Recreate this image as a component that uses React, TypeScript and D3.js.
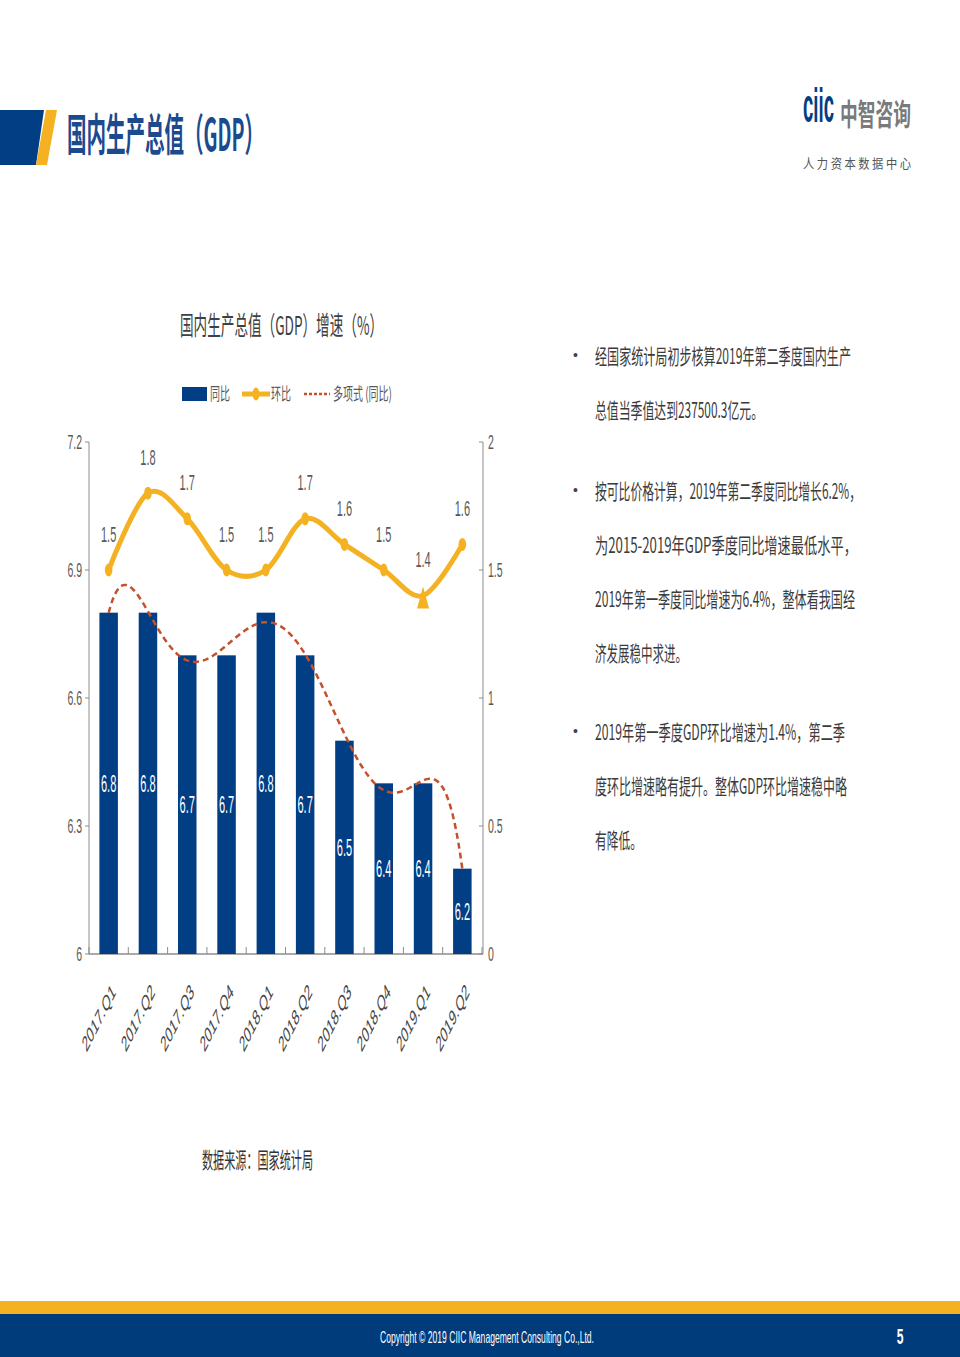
import React from "react";
import * as d3 from "d3";

const quarters = ["2017.Q1", "2017.Q2", "2017.Q3", "2017.Q4", "2018.Q1", "2018.Q2", "2018.Q3", "2018.Q4", "2019.Q1", "2019.Q2"];
const yoy = [6.8, 6.8, 6.7, 6.7, 6.8, 6.7, 6.5, 6.4, 6.4, 6.2];
const qoq = [1.5, 1.8, 1.7, 1.5, 1.5, 1.7, 1.6, 1.5, 1.4, 1.6];
const leftTicks = [6, 6.3, 6.6, 6.9, 7.2];
const rightTicks = [0, 0.5, 1, 1.5, 2];

const bullets = [
  ["经国家统计局初步核算2019年第二季度国内生产", "总值当季值达到237500.3亿元。"],
  ["按可比价格计算，2019年第二季度同比增长6.2%，", "为2015-2019年GDP季度同比增速最低水平，", "2019年第一季度同比增速为6.4%，整体看我国经", "济发展稳中求进。"],
  ["2019年第一季度GDP环比增速为1.4%，第二季", "度环比增速略有提升。整体GDP环比增速稳中略", "有降低。"],
];
const bulletWidths = [[256, 168], [266, 262, 260, 92], [250, 252, 47]];

const CJK = '"Noto Sans CJK SC", "Noto Sans", sans-serif';
const LAT = '"Liberation Sans", Arial, sans-serif';
const BLUE = "#023e84";
const GOLD = "#f4b223";
const RED = "#c4502c";
const GRAY = "#595959";

// least squares polynomial (Excel style trendline)
function polyfit(xs: number[], ys: number[], deg: number) {
  const n = deg + 1;
  const A = Array.from({ length: n }, () => new Array(n + 1).fill(0));
  xs.forEach((x, k) => {
    for (let i = 0; i < n; i++) {
      for (let j = 0; j < n; j++) A[i][j] += Math.pow(x, i + j);
      A[i][n] += ys[k] * Math.pow(x, i);
    }
  });
  for (let c = 0; c < n; c++) {
    let p = c;
    for (let r = c + 1; r < n; r++) if (Math.abs(A[r][c]) > Math.abs(A[p][c])) p = r;
    [A[c], A[p]] = [A[p], A[c]];
    for (let r = 0; r < n; r++) {
      if (r === c) continue;
      const f = A[r][c] / A[c][c];
      for (let k = c; k <= n; k++) A[r][k] -= f * A[c][k];
    }
  }
  return A.map((row, i) => row[n] / A[i][i]);
}

const Sq = ({ x, y, sx = 0.5, size, anchor = "start", fill = GRAY, weight = 400, family = LAT, rotate, children }: any) => (
  <text
    transform={`translate(${x},${y}) scale(${sx},1)${rotate ? ` rotate(${rotate})` : ""}`}
    fontSize={size}
    textAnchor={anchor}
    dominantBaseline="central"
    fill={fill}
    fontWeight={weight}
    fontFamily={family}
  >
    {children}
  </text>
);

// squeezed text fitted to a measured width
const Fit = ({ x, y, w, size, sx = 0.62, fill = "#3b3b3b", weight = 400, family = CJK, children }: any) => (
  <text
    transform={`translate(${x},${y}) scale(${sx},1)`}
    textLength={w / sx}
    lengthAdjust="spacingAndGlyphs"
    fontSize={size}
    fill={fill}
    fontWeight={weight}
    fontFamily={family}
    dominantBaseline="central"
  >
    {children}
  </text>
);

export default function App() {
  const step = (482 - 89) / quarters.length;
  const cx = (q: string) => 89 + step * (quarters.indexOf(q) + 0.5);
  const yL = d3.scaleLinear().domain([6, 7.2]).range([954, 442]);
  const yR = d3.scaleLinear().domain([0, 2]).range([954, 442]);
  const bw = 18.5;

  const line = d3
    .line<number>()
    .x((_, i) => cx(quarters[i]))
    .y(d => yR(d))
    .curve(d3.curveCatmullRom.alpha(0));

  const ts = yoy.map((_, i) => (i - 4.5) / 4.5);
  const coef = polyfit(ts, yoy, 6);
  const evalPoly = (t: number) => coef.reduce((s, c, i) => s + c * Math.pow(t, i), 0);
  const trend = d3.range(0, 9.001, 0.05).map(i => [89 + step * (i + 0.5), yL(evalPoly((i - 4.5) / 4.5))] as [number, number]);

  const yPos = [355, 409, 490, 544, 598, 652, 731, 785, 839];
  let li = 0;

  return (
    <svg width={960} height={1357} style={{ position: "absolute", left: 0, top: 0, background: "#fff" }}>
      <rect width={960} height={1357} fill="#fff" />

      {/* header */}
      <polygon points="0,110 44,110 36,165 0,165" fill={BLUE} />
      <polygon points="46,110 57,110 47,165 36,165" fill={GOLD} />
      <Fit x={67} y={132} w={197} size={44} sx={0.6} fill="#1b4a8e" weight={700}>国内生产总值（GDP）</Fit>

      {/* logo */}
      <Fit x={803} y={106} w={31} size={48} sx={0.39} fill={BLUE} weight={700} family={LAT}>ciic</Fit>
      <Fit x={840} y={112} w={71} size={30} sx={0.6} fill="#7a7a7a" weight={700}>中智咨询</Fit>
      <Fit x={803} y={162} w={108} size={13} sx={0.8} fill="#555">人 力 资 本 数 据 中 心</Fit>

      {/* chart title & legend */}
      <Fit x={180} y={324} w={203} size={26} fill="#404040">国内生产总值（GDP）增速（%）</Fit>
      <rect x={182} y={387} width={25} height={14} fill={BLUE} />
      <Fit x={210} y={393} w={20} size={17} fill={GRAY}>同比</Fit>
      <line x1={242} x2={270} y1={394} y2={394} stroke={GOLD} strokeWidth={5} />
      <ellipse cx={256} cy={394} rx={3.5} ry={6.5} fill={GOLD} />
      <Fit x={271} y={393} w={20} size={17} fill={GRAY}>环比</Fit>
      <line x1={304} x2={330} y1={394} y2={394} stroke={RED} strokeWidth={2.5} strokeDasharray="3,2" />
      <Fit x={333} y={393} w={59} size={17} fill={GRAY}>多项式 (同比)</Fit>

      {/* axes */}
      <line x1={89} x2={89} y1={442} y2={954} stroke="#8c8c8c" />
      <line x1={483} x2={483} y1={442} y2={954} stroke="#8c8c8c" />
      <line x1={89} x2={483} y1={954} y2={954} stroke="#8c8c8c" strokeWidth={1.5} />
      {leftTicks.map(t => (
        <g key={"l" + t}>
          <line x1={85} x2={89} y1={yL(t)} y2={yL(t)} stroke="#8c8c8c" />
          <Sq x={82} y={yL(t)} size={21} anchor="end">{t}</Sq>
        </g>
      ))}
      {rightTicks.map(t => (
        <g key={"r" + t}>
          <line x1={479} x2={483} y1={yR(t)} y2={yR(t)} stroke="#8c8c8c" />
          <Sq x={488} y={yR(t)} size={21}>{t}</Sq>
        </g>
      ))}
      {d3.range(0, quarters.length + 1).map(i => (
        <line key={"t" + i} x1={89 + step * i} x2={89 + step * i} y1={947} y2={954} stroke="#8c8c8c" />
      ))}

      {/* bars */}
      {yoy.map((v, i) => (
        <g key={"b" + i}>
          <rect x={cx(quarters[i]) - bw / 2} y={yL(v)} width={bw} height={954 - yL(v)} fill={BLUE} />
          <Sq x={cx(quarters[i])} y={(yL(v) + 954) / 2} size={24} sx={0.46} anchor="middle" fill="#fff">{v}</Sq>
        </g>
      ))}

      {/* trendline */}
      <path d={d3.line()(trend) || ""} fill="none" stroke={RED} strokeWidth={2.5} strokeDasharray="6,4" />

      {/* qoq line */}
      <path d={line(qoq) || ""} fill="none" stroke={GOLD} strokeWidth={5} />
      {qoq.map((v, i) =>
        i === 8 ? (
          <path key={"m" + i} d={`M${cx(quarters[i])},${yR(v) - 9}L${cx(quarters[i]) - 6},${yR(v) + 13}L${cx(quarters[i]) + 6},${yR(v) + 13}Z`} fill={GOLD} />
        ) : (
          <ellipse key={"m" + i} cx={cx(quarters[i])} cy={yR(v)} rx={3.8} ry={6.5} fill={GOLD} />
        )
      )}
      {qoq.map((v, i) => (
        <Sq key={"ql" + i} x={cx(quarters[i])} y={yR(v) - 36} size={22} anchor="middle">{v.toFixed(1)}</Sq>
      ))}

      {/* x labels */}
      {quarters.map(q => (
        <Sq key={q} x={cx(q) + 5} y={988} size={22} rotate={-45} anchor="end" fill="#444">{q}</Sq>
      ))}

      <Fit x={202} y={1158} w={111} size={22} fill="#333">数据来源：国家统计局</Fit>

      {/* right text */}
      {bullets.map((para, pi) => (
        <g key={"p" + pi}>
          <text x={573} y={yPos[li]} fontSize={14} fill="#444" dominantBaseline="central" fontFamily={LAT}>•</text>
          {para.map((ln, k) => {
            const yy = yPos[li++];
            return (
              <Fit key={k} x={595} y={yy} w={bulletWidths[pi][k]} size={21}>{ln}</Fit>
            );
          })}
        </g>
      ))}

      {/* footer */}
      <rect x={0} y={1301} width={960} height={14} fill={GOLD} />
      <rect x={0} y={1314} width={960} height={43} fill="#003b7c" />
      <Fit x={380} y={1337} w={214} size={17} sx={0.5} fill="#fff" family={LAT}>Copyright © 2019 CIIC Management Consulting Co.,Ltd.</Fit>
      <Sq x={900} y={1337} size={22} sx={0.55} anchor="middle" fill="#fff" weight={700}>5</Sq>
    </svg>
  );
}
